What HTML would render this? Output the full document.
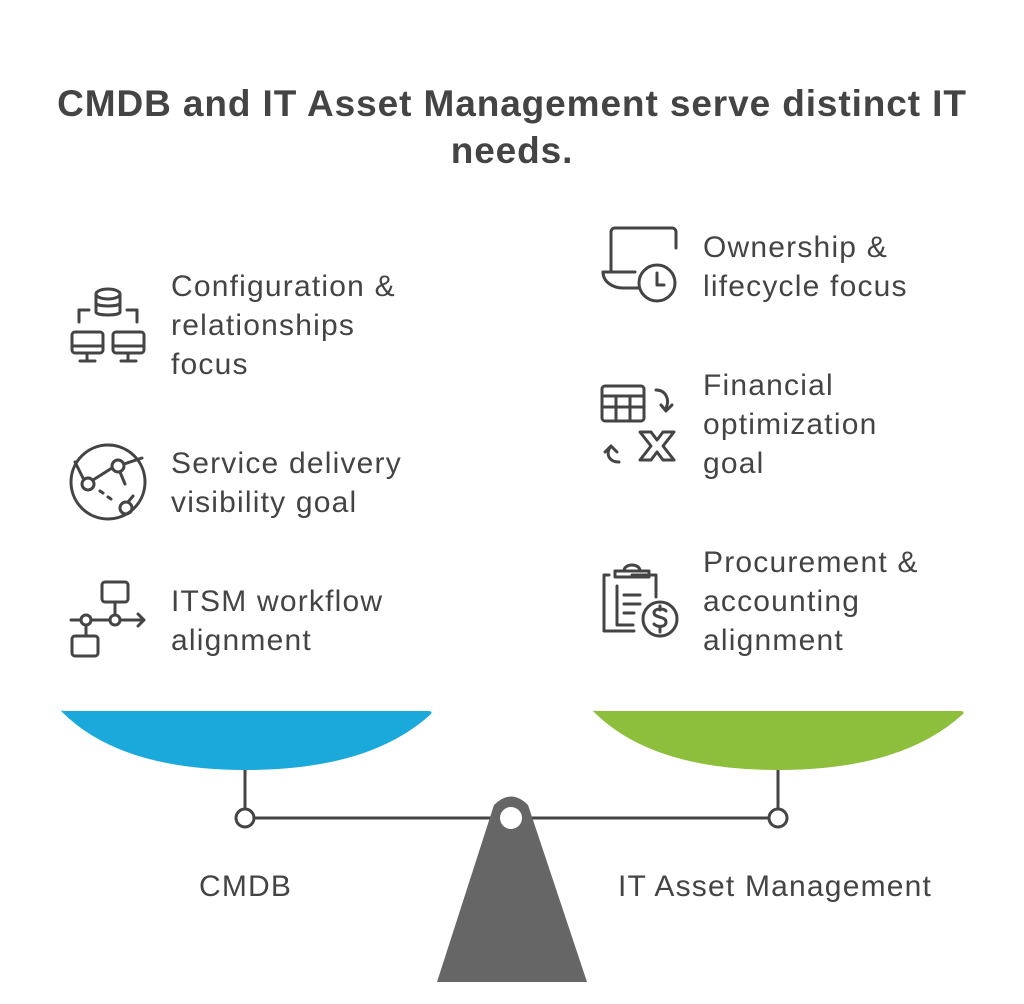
<!DOCTYPE html>
<html><head><style>
body{margin:0;width:1024px;height:1004px;background:#fff;font-family:"Liberation Sans",sans-serif;position:relative;overflow:hidden}
.t{position:absolute;left:0;width:1024px;text-align:center;font-weight:bold;font-size:37px;letter-spacing:0.9px;color:#444;line-height:47px;top:80px}
.l{position:absolute;font-size:30px;letter-spacing:1.2px;color:#444;line-height:39px;white-space:nowrap}
</style></head><body>
<div class="t">CMDB and IT Asset Management serve distinct IT<br>needs.</div>
<div class="l" style="left:171px;top:267px">Configuration &amp;<br>relationships<br>focus</div>
<div class="l" style="left:171px;top:444px">Service delivery<br>visibility goal</div>
<div class="l" style="left:171px;top:582px">ITSM workflow<br>alignment</div>
<div class="l" style="left:703px;top:228px">Ownership &amp;<br>lifecycle focus</div>
<div class="l" style="left:703px;top:366px">Financial<br>optimization<br>goal</div>
<div class="l" style="left:703px;top:543px">Procurement &amp;<br>accounting<br>alignment</div>
<div class="l" style="left:199px;top:867px">CMDB</div>
<div class="l" style="left:618px;top:867px">IT Asset Management</div>
<svg width="1024" height="1004" style="position:absolute;left:0;top:0" fill="none" stroke="#444" stroke-width="3" stroke-linecap="round" stroke-linejoin="round">
<ellipse cx="108" cy="294" rx="12" ry="5"/><path d="M96 294v18c0 4 24 4 24 0v-18M96 303c0 4 24 4 24 0"/>
<path d="M79 322v-12h10M137 322v-12h-10"/>
<rect x="72" y="332" width="31" height="21" rx="3"/><path d="M73 346h29M87 353v7M80 361h15"/>
<rect x="113" y="332" width="31" height="21" rx="3"/><path d="M114 346h29M128 353v7M121 361h15"/>
<circle cx="108" cy="482" r="37"/><circle cx="88" cy="484" r="6"/><circle cx="118" cy="466" r="6"/><circle cx="126" cy="508" r="6"/>
<path d="M83 478l-8-16M93 480l19-12M124 464l18-6M120 472l5 12M100 491l3 2M108 497l3 2M128 502l5-6"/>
<rect x="102" y="582" width="26" height="20" rx="3"/><path d="M115 602v12"/>
<circle cx="86" cy="620" r="5"/><circle cx="115" cy="620" r="5"/><path d="M71 620h10M91 620h19M120 620h24M138 614l6 6-6 6M86 625v10"/>
<rect x="72" y="636" width="26" height="20" rx="3"/>
<path d="M611 271v-39a4 4 0 014-4h57a4 4 0 014 4v16M603 272h32M603 272c0 10 10 16 20 16h16"/>
<circle cx="657" cy="283" r="18"/><path d="M657 273v12h7"/>
<rect x="602" y="386" width="42" height="35" rx="3"/><path d="M602 396h42M602 407h42M616 396v25M630 396v25M656 390c10 0 14 10 10 18M661 405l5 6 6-6M619 462c-10 0-14-8-8-16M605 452l6-6 6 6"/>
<path d="M640 432h11l6 8 6-8h11l-11 14 11 14h-11l-6-8-6 8h-11l11-14z"/>
<path d="M609 575h-5v56h30M632 575h24v22"/><path d="M615 571h34v6h-34z"/><path d="M624 571c0-8 16-8 16 0"/>
<path d="M617 586v39h16M624 595h16M624 604h16M624 613h10"/>
<circle cx="660" cy="619" r="17"/><path d="M666 611c-2-3-12-3-12 2s12 3 12 9-10 5-12 2M660 606v4M660 628v4"/>
<path d="M245 770v39M778 770v39M254 818h248M521 818h248"/>
<circle cx="245" cy="818" r="9" fill="#fff"/><circle cx="778" cy="818" r="9" fill="#fff"/>
</svg>
<svg width="1024" height="1004" style="position:absolute;left:0;top:0">
<path d="M62 712Q60 710 64 711H428Q433 711 431 714Q370 770 246 770Q120 770 62 712z" fill="#1BA9DC"/>
<path d="M594 712Q592 710 596 711H960Q965 711 963 714Q902 770 778 770Q652 770 594 712z" fill="#8DBF3C"/>
<path d="M494 805Q511 788 528 805L587 982H437z" fill="#666"/>
<circle cx="511" cy="818" r="11" fill="#fff"/>
</svg>
</body></html>
